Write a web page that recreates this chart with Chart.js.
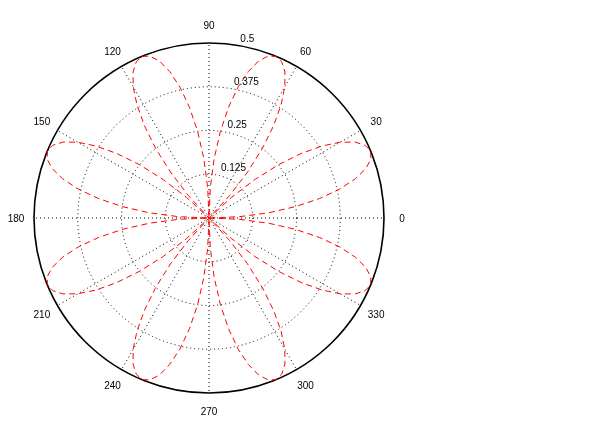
<!DOCTYPE html>
<html>
<head>
<meta charset="utf-8">
<title>Polar rose</title>
<script src="https://cdn.jsdelivr.net/npm/chart.js@4.4.1/dist/chart.umd.min.js"></script>
<style>
    html, body { margin: 0; padding: 0; background: #ffffff; }
    #wrap { width: 600px; height: 430px; }
</style>
</head>
<body>
<div id="wrap"><canvas id="polar-chart"></canvas></div>
<script>
// Angles in degrees, counter-clockwise from the right, one every 2.5 deg
const thetaDeg = [
    0, 2.5, 5, 7.5, 10, 12.5, 15, 17.5, 20, 22.5, 25, 27.5, 30, 32.5, 35, 37.5, 40, 42.5,
    45, 47.5, 50, 52.5, 55, 57.5, 60, 62.5, 65, 67.5, 70, 72.5, 75, 77.5, 80, 82.5, 85, 87.5,
    90, 92.5, 95, 97.5, 100, 102.5, 105, 107.5, 110, 112.5, 115, 117.5, 120, 122.5, 125, 127.5, 130, 132.5,
    135, 137.5, 140, 142.5, 145, 147.5, 150, 152.5, 155, 157.5, 160, 162.5, 165, 167.5, 170, 172.5, 175, 177.5,
    180, 182.5, 185, 187.5, 190, 192.5, 195, 197.5, 200, 202.5, 205, 207.5, 210, 212.5, 215, 217.5, 220, 222.5,
    225, 227.5, 230, 232.5, 235, 237.5, 240, 242.5, 245, 247.5, 250, 252.5, 255, 257.5, 260, 262.5, 265, 267.5,
    270, 272.5, 275, 277.5, 280, 282.5, 285, 287.5, 290, 292.5, 295, 297.5, 300, 302.5, 305, 307.5, 310, 312.5,
    315, 317.5, 320, 322.5, 325, 327.5, 330, 332.5, 335, 337.5, 340, 342.5, 345, 347.5, 350, 352.5, 355, 357.5
];

// Radius at each angle (one row per petal)
const radius = [
    0, 0.087, 0.171, 0.25, 0.321, 0.383, 0.433, 0.47, 0.492, 0.5, 0.492, 0.47, 0.433, 0.383, 0.321, 0.25, 0.171, 0.087,
    0, 0.087, 0.171, 0.25, 0.321, 0.383, 0.433, 0.47, 0.492, 0.5, 0.492, 0.47, 0.433, 0.383, 0.321, 0.25, 0.171, 0.087,
    0, 0.087, 0.171, 0.25, 0.321, 0.383, 0.433, 0.47, 0.492, 0.5, 0.492, 0.47, 0.433, 0.383, 0.321, 0.25, 0.171, 0.087,
    0, 0.087, 0.171, 0.25, 0.321, 0.383, 0.433, 0.47, 0.492, 0.5, 0.492, 0.47, 0.433, 0.383, 0.321, 0.25, 0.171, 0.087,
    0, 0.087, 0.171, 0.25, 0.321, 0.383, 0.433, 0.47, 0.492, 0.5, 0.492, 0.47, 0.433, 0.383, 0.321, 0.25, 0.171, 0.087,
    0, 0.087, 0.171, 0.25, 0.321, 0.383, 0.433, 0.47, 0.492, 0.5, 0.492, 0.47, 0.433, 0.383, 0.321, 0.25, 0.171, 0.087,
    0, 0.087, 0.171, 0.25, 0.321, 0.383, 0.433, 0.47, 0.492, 0.5, 0.492, 0.47, 0.433, 0.383, 0.321, 0.25, 0.171, 0.087,
    0, 0.087, 0.171, 0.25, 0.321, 0.383, 0.433, 0.47, 0.492, 0.5, 0.492, 0.47, 0.433, 0.383, 0.321, 0.25, 0.171, 0.087
];

// Labelled spokes and rings
const angleTicks = [0, 30, 60, 90, 120, 150, 180, 210, 240, 270, 300, 330];
const rTicks = [0.125, 0.25, 0.375, 0.5];
const rTickLabels = ['0.125', '0.25', '0.375', '0.5'];

const FONT = '10px "Liberation Sans", Arial, sans-serif';

// Chart.js radar runs clockwise, so feed the angles in reverse after 0 to get counter-clockwise
const order = [0].concat(thetaDeg.map((t, i) => i).slice(1).reverse());
const chartLabels = order.map(i => thetaDeg[i]);
const chartData = order.map(i => radius[i]);

// Draws the angle labels and the radius labels off the library's scale
const polarLabels = {
    id: 'polarLabels',
    afterDraw(chart) {
        const scale = chart.scales.r;
        const ctx = chart.ctx;
        ctx.save();
        ctx.font = FONT;
        ctx.fillStyle = '#000000';

        ctx.textAlign = 'center';
        ctx.textBaseline = 'middle';
        angleTicks.forEach(a => {
            const idx = chartLabels.indexOf(a);
            const pos = scale.getPointPosition(idx, scale.drawingArea + 18);
            ctx.fillText(String(a), pos.x, pos.y + 1);
        });

        // radius labels sit just right of the 90 deg spoke
        const a = 81.5 * Math.PI / 180;
        ctx.textAlign = 'left';
        ctx.textBaseline = 'alphabetic';
        rTicks.forEach((v, i) => {
            const d = scale.getDistanceFromCenterForValue(v);
            const x = scale.xCenter + Math.cos(a) * d;
            const y = scale.yCenter - Math.sin(a) * d;
            ctx.fillText(rTickLabels[i], x + 5.5, y - 3.3);
        });
        ctx.restore();
    }
};

const ctx = document.getElementById('polar-chart').getContext('2d');
const chart = new Chart(ctx, {
    type: 'radar',
    data: {
        labels: chartLabels,
        datasets: [{
            data: chartData,
            borderColor: '#ff0000',
            borderWidth: 1,
            borderDash: [6, 4],
            pointRadius: 0,
            pointHoverRadius: 0,
            fill: false,
            tension: 0
        }]
    },
    options: {
        responsive: true,
        maintainAspectRatio: false,
        animation: false,
        layout: {
            padding: { left: 34, right: 216, top: 43, bottom: 36 }
        },
        plugins: {
            legend: { display: false },
            tooltip: { enabled: false }
        },
        scales: {
            r: {
                min: 0,
                max: 0.5,
                startAngle: 90,
                ticks: { stepSize: 0.125, display: false },
                pointLabels: { display: false },
                grid: {
                    circular: true,
                    color: '#000000',
                    lineWidth: c => c.index === rTicks.length ? 1.6 : 1
                },
                border: {
                    dash: c => c.index === rTicks.length ? [] : [1, 3]
                },
                angleLines: {
                    color: '#000000',
                    lineWidth: c => angleTicks.includes(chartLabels[c.index]) ? 1 : 0,
                    borderDash: [1, 3]
                }
            }
        }
    },
    plugins: [polarLabels]
});
</script>
</body>
</html>
